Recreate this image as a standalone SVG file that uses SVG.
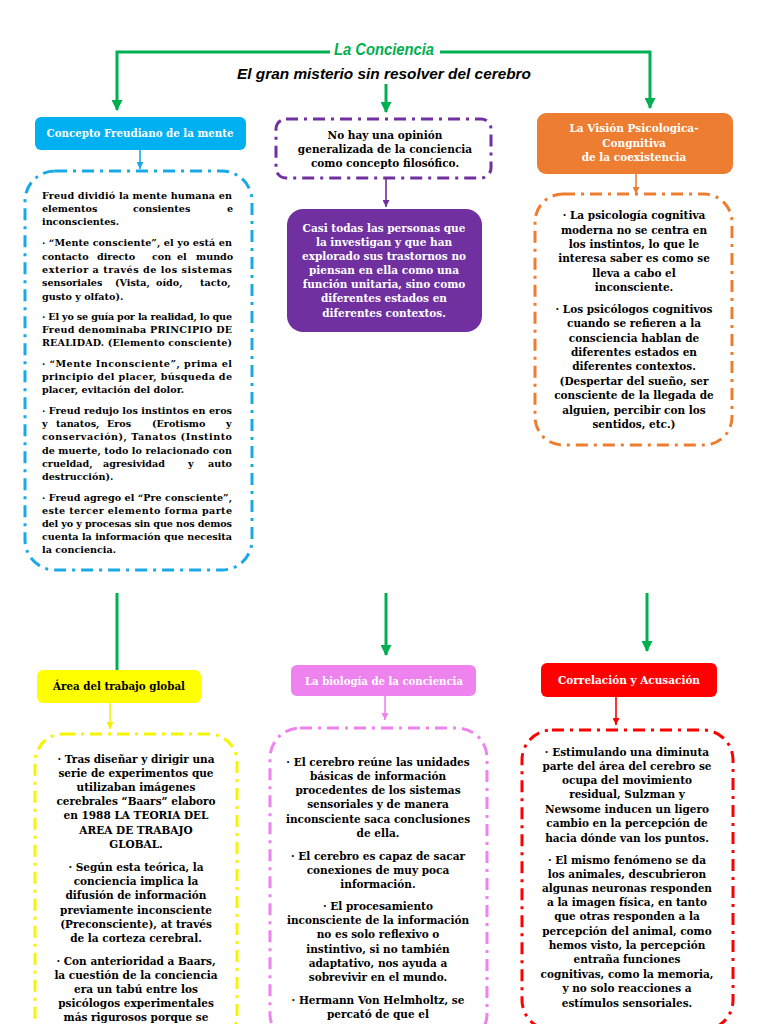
<svg xmlns="http://www.w3.org/2000/svg" width="768" height="1024" viewBox="0 0 768 1024">
<style>
.t{font-family:"DejaVu Serif","Liberation Serif",serif;font-weight:bold;font-size:10.5px;fill:#000;text-anchor:middle}
.l{font-size:9.6px;text-anchor:start}
.w{fill:#fff}
.hd{font-family:"DejaVu Serif","Liberation Serif",serif;font-weight:bold;font-size:10.5px;text-anchor:middle}
.box{fill:none;stroke-width:3;stroke-dasharray:12 6 3 6;stroke-linecap:butt}
.g{fill:none;stroke:#00b050;stroke-width:3}
.sm{fill:none;stroke-width:1.6}
.ti{font-family:"Liberation Sans","DejaVu Sans",sans-serif;font-style:italic;font-weight:bold;text-anchor:middle}
</style>
<defs>
<marker id="ag" markerUnits="userSpaceOnUse" markerWidth="11" markerHeight="11" refX="10" refY="5.5" orient="auto"><path d="M0,0 L11,5.5 L0,11 z" fill="#00b050"/></marker>
<marker id="ac" markerUnits="userSpaceOnUse" markerWidth="7" markerHeight="7" refX="7" refY="3.5" orient="auto"><path d="M0,0 L7,3.5 L0,7 z" fill="#19a9e6"/></marker>
<marker id="ap" markerUnits="userSpaceOnUse" markerWidth="7" markerHeight="7" refX="7" refY="3.5" orient="auto"><path d="M0,0 L7,3.5 L0,7 z" fill="#7030a0"/></marker>
<marker id="ao" markerUnits="userSpaceOnUse" markerWidth="7" markerHeight="7" refX="7" refY="3.5" orient="auto"><path d="M0,0 L7,3.5 L0,7 z" fill="#ed7d31"/></marker>
<marker id="ay" markerUnits="userSpaceOnUse" markerWidth="7" markerHeight="7" refX="7" refY="3.5" orient="auto"><path d="M0,0 L7,3.5 L0,7 z" fill="#f2f200"/></marker>
<marker id="ak" markerUnits="userSpaceOnUse" markerWidth="7" markerHeight="7" refX="7" refY="3.5" orient="auto"><path d="M0,0 L7,3.5 L0,7 z" fill="#ee82ee"/></marker>
<marker id="ar" markerUnits="userSpaceOnUse" markerWidth="7" markerHeight="7" refX="7" refY="3.5" orient="auto"><path d="M0,0 L7,3.5 L0,7 z" fill="#ff0000"/></marker>
</defs>
<rect width="768" height="1024" fill="#fff"/>

<g id="title">
<text class="ti" x="384" y="55" font-size="16" fill="#00b050" textLength="100" lengthAdjust="spacingAndGlyphs">La Conciencia</text>
<text class="ti" x="384" y="79" font-size="14" fill="#000" textLength="294" lengthAdjust="spacingAndGlyphs">El gran misterio sin resolver del cerebro</text>
</g>

<g id="connectors">
<path class="g" d="M330,52 H117 V110" marker-end="url(#ag)"/>
<path class="g" d="M440,52 H650 V108" marker-end="url(#ag)"/>
<path class="g" d="M386,84 V112" marker-end="url(#ag)"/>
<path class="g" d="M117,593 V691" marker-end="url(#ag)"/>
<path class="g" d="M386,593 V655" marker-end="url(#ag)"/>
<path class="g" d="M647,593 V651" marker-end="url(#ag)"/>
<path class="sm" stroke="#19a9e6" d="M140,150 V169" marker-end="url(#ac)"/>
<path class="sm" stroke="#7030a0" d="M386,178 V207" marker-end="url(#ap)"/>
<path class="sm" stroke="#ed7d31" d="M636,174 V194" marker-end="url(#ao)"/>
<path class="sm" stroke="#f2f200" d="M110,703 V729" marker-end="url(#ay)"/>
<path class="sm" stroke="#ee82ee" d="M385,696 V720" marker-end="url(#ak)"/>
<path class="sm" stroke="#ff0000" d="M616,697 V725" marker-end="url(#ar)"/>
</g>

<g id="freud-header">
<rect x="35" y="117" width="211" height="33" rx="6" fill="#00b0f0"/>
<text class="hd w" x="140" y="137" textLength="187" lengthAdjust="spacingAndGlyphs">Concepto Freudiano de la mente</text>
</g>

<g id="freud-body">
<rect class="box" x="25" y="171" width="227" height="399" rx="30" stroke="#19a9e6"/>
<text class="t l" x="42" y="199" textLength="190" lengthAdjust="spacing">Freud dividió la mente humana en</text>
<text class="t l" x="42" y="212">elementos</text>
<text class="t l" x="133" y="212">consientes</text>
<text class="t l" x="227" y="212">e</text>
<text class="t l" x="42" y="225">inconscientes.</text>
<text class="t l" x="42" y="246" textLength="190" lengthAdjust="spacing">· “Mente consciente”, el yo está en</text>
<text class="t l" x="42" y="260">contacto</text>
<text class="t l" x="97" y="260">directo</text>
<text class="t l" x="152" y="260">con</text>
<text class="t l" x="177" y="260">el</text>
<text class="t l" x="196" y="260">mundo</text>
<text class="t l" x="42" y="273" textLength="190" lengthAdjust="spacing">exterior a través de los sistemas</text>
<text class="t l" x="42" y="286">sensoriales</text>
<text class="t l" x="115" y="286">(Vista,</text>
<text class="t l" x="156" y="286">oído,</text>
<text class="t l" x="200" y="286">tacto,</text>
<text class="t l" x="42" y="300">gusto y olfato).</text>
<text class="t l" x="42" y="320" textLength="190" lengthAdjust="spacing">· El yo se guía por la realidad, lo que</text>
<text class="t l" x="42" y="333" textLength="190" lengthAdjust="spacing">Freud denominaba PRINCIPIO DE</text>
<text class="t l" x="42" y="346" textLength="190" lengthAdjust="spacing">REALIDAD. (Elemento consciente)</text>
<text class="t l" x="42" y="367" textLength="190" lengthAdjust="spacing">· “Mente Inconsciente”, prima el</text>
<text class="t l" x="42" y="380" textLength="190" lengthAdjust="spacing">principio del placer, búsqueda de</text>
<text class="t l" x="42" y="393">placer, evitación del dolor.</text>
<text class="t l" x="42" y="414" textLength="190" lengthAdjust="spacing">· Freud redujo los instintos en eros</text>
<text class="t l" x="42" y="427">y</text>
<text class="t l" x="56" y="427">tanatos,</text>
<text class="t l" x="107" y="427">Eros</text>
<text class="t l" x="152" y="427">(Erotismo</text>
<text class="t l" x="226" y="427">y</text>
<text class="t l" x="42" y="440" textLength="190" lengthAdjust="spacing">conservación), Tanatos (Instinto</text>
<text class="t l" x="42" y="454" textLength="190" lengthAdjust="spacing">de muerte, todo lo relacionado con</text>
<text class="t l" x="42" y="467">crueldad,</text>
<text class="t l" x="103" y="467">agresividad</text>
<text class="t l" x="188" y="467">y</text>
<text class="t l" x="208" y="467">auto</text>
<text class="t l" x="42" y="480">destrucción).</text>
<text class="t l" x="42" y="501" textLength="190" lengthAdjust="spacing">· Freud agrego el “Pre consciente”,</text>
<text class="t l" x="42" y="514" textLength="190" lengthAdjust="spacing">este tercer elemento forma parte</text>
<text class="t l" x="42" y="527" textLength="190" lengthAdjust="spacing">del yo y procesas sin que nos demos</text>
<text class="t l" x="42" y="540" textLength="190" lengthAdjust="spacing">cuenta la información que necesita</text>
<text class="t l" x="42" y="553">la conciencia.</text>
</g>

<g id="opinion">
<rect class="box" x="276" y="119" width="215" height="59" rx="10" stroke="#7030a0"/>
<text class="t" x="385" y="139">No hay una opinión</text>
<text class="t" x="385" y="153">generalizada de la conciencia</text>
<text class="t" x="385" y="167">como concepto filosófico.</text>
</g>

<g id="personas">
<rect x="287" y="209" width="195" height="123" rx="16" fill="#7030a0"/>
<text class="t w" x="384" y="232">Casi todas las personas que</text>
<text class="t w" x="384" y="246">la investigan y que han</text>
<text class="t w" x="384" y="260">explorado sus trastornos no</text>
<text class="t w" x="384" y="274">piensan en ella como una</text>
<text class="t w" x="384" y="288">función unitaria, sino como</text>
<text class="t w" x="384" y="302">diferentes estados en</text>
<text class="t w" x="384" y="317">diferentes contextos.</text>
</g>

<g id="vision-header">
<rect x="537" y="113" width="196" height="61" rx="9" fill="#ed7d31"/>
<text class="hd w" x="634" y="132">La Visión Psicologica-</text>
<text class="hd w" x="634" y="147">Congnitiva</text>
<text class="hd w" x="634" y="161">de la coexistencia</text>
</g>

<g id="vision-body">
<rect class="box" x="535" y="194" width="197" height="251" rx="28" stroke="#ed7d31"/>
<text class="t" x="634" y="219">· La psicología cognitiva</text>
<text class="t" x="634" y="234">moderna no se centra en</text>
<text class="t" x="634" y="248">los instintos, lo que le</text>
<text class="t" x="634" y="262">interesa saber es como se</text>
<text class="t" x="634" y="277">lleva a cabo el</text>
<text class="t" x="634" y="291">inconsciente.</text>
<text class="t" x="634" y="313">· Los psicólogos cognitivos</text>
<text class="t" x="634" y="327">cuando se refieren a la</text>
<text class="t" x="634" y="342">consciencia hablan de</text>
<text class="t" x="634" y="356">diferentes estados en</text>
<text class="t" x="634" y="370">diferentes contextos.</text>
<text class="t" x="634" y="385">(Despertar del sueño, ser</text>
<text class="t" x="634" y="399">consciente de la llegada de</text>
<text class="t" x="634" y="414">alguien, percibir con los</text>
<text class="t" x="634" y="428">sentidos, etc.)</text>
</g>

<g id="area-header">
<rect x="37" y="670" width="164" height="33" rx="6" fill="#ffff00"/>
<text class="hd" x="119" y="690" fill="#000" textLength="132" lengthAdjust="spacingAndGlyphs">Área del trabajo global</text>
</g>

<g id="area-body">
<rect class="box" x="35" y="734" width="202" height="310" rx="28" stroke="#f5f500"/>
<text class="t" x="136" y="763">· Tras diseñar y dirigir una</text>
<text class="t" x="136" y="777">serie de experimentos que</text>
<text class="t" x="136" y="791">utilizaban imágenes</text>
<text class="t" x="136" y="805">cerebrales “Baars” elaboro</text>
<text class="t" x="136" y="819">en 1988 LA TEORIA DEL</text>
<text class="t" x="136" y="834">AREA DE TRABAJO</text>
<text class="t" x="136" y="848">GLOBAL.</text>
<text class="t" x="136" y="871">· Según esta teórica, la</text>
<text class="t" x="136" y="885">conciencia implica la</text>
<text class="t" x="136" y="899">difusión de información</text>
<text class="t" x="136" y="914">previamente inconsciente</text>
<text class="t" x="136" y="928">(Preconsciente), at través</text>
<text class="t" x="136" y="942">de la corteza cerebral.</text>
<text class="t" x="136" y="965">· Con anterioridad a Baars,</text>
<text class="t" x="136" y="979">la cuestión de la conciencia</text>
<text class="t" x="136" y="993">era un tabú entre los</text>
<text class="t" x="136" y="1007">psicólogos experimentales</text>
<text class="t" x="136" y="1021">más rigurosos porque se</text>
</g>

<g id="biologia-header">
<rect x="291" y="665" width="185" height="31" rx="6" fill="#ee82ee"/>
<text class="hd w" x="384" y="685" textLength="158" lengthAdjust="spacingAndGlyphs">La biología de la conciencia</text>
</g>

<g id="biologia-body">
<rect class="box" x="270" y="728" width="217" height="316" rx="30" stroke="#ee82ee"/>
<text class="t" x="378" y="766">· El cerebro reúne las unidades</text>
<text class="t" x="378" y="780">básicas de información</text>
<text class="t" x="378" y="794">procedentes de los sistemas</text>
<text class="t" x="378" y="808">sensoriales y de manera</text>
<text class="t" x="378" y="823">inconsciente saca conclusiones</text>
<text class="t" x="378" y="837">de ella.</text>
<text class="t" x="378" y="860">· El cerebro es capaz de sacar</text>
<text class="t" x="378" y="874">conexiones de muy poca</text>
<text class="t" x="378" y="888">información.</text>
<text class="t" x="378" y="910">· El procesamiento</text>
<text class="t" x="378" y="924">inconsciente de la información</text>
<text class="t" x="378" y="938">no es solo reflexivo o</text>
<text class="t" x="378" y="953">instintivo, si no también</text>
<text class="t" x="378" y="967">adaptativo, nos ayuda a</text>
<text class="t" x="378" y="981">sobrevivir en el mundo.</text>
<text class="t" x="378" y="1004">· Hermann Von Helmholtz, se</text>
<text class="t" x="378" y="1018">percató de que el</text>
</g>

<g id="correlacion-header">
<rect x="541" y="663" width="176" height="34" rx="6" fill="#ff0000"/>
<text class="hd w" x="629" y="684" textLength="142" lengthAdjust="spacingAndGlyphs">Correlación y Acusación</text>
</g>

<g id="correlacion-body">
<rect class="box" x="522" y="730" width="211" height="300" rx="30" stroke="#ff0000"/>
<text class="t" x="627" y="756">· Estimulando una diminuta</text>
<text class="t" x="627" y="770">parte del área del cerebro se</text>
<text class="t" x="627" y="784">ocupa del movimiento</text>
<text class="t" x="627" y="798">residual, Sulzman y</text>
<text class="t" x="627" y="813">Newsome inducen un ligero</text>
<text class="t" x="627" y="827">cambio en la percepción de</text>
<text class="t" x="627" y="842">hacia dónde van los puntos.</text>
<text class="t" x="627" y="864">· El mismo fenómeno se da</text>
<text class="t" x="627" y="878">los animales, descubrieron</text>
<text class="t" x="627" y="892">algunas neuronas responden</text>
<text class="t" x="627" y="906">a la imagen física, en tanto</text>
<text class="t" x="627" y="920">que otras responden a la</text>
<text class="t" x="627" y="935">percepción del animal, como</text>
<text class="t" x="627" y="949">hemos visto, la percepción</text>
<text class="t" x="627" y="963">entraña funciones</text>
<text class="t" x="627" y="978">cognitivas, como la memoria,</text>
<text class="t" x="627" y="992">y no solo reacciones a</text>
<text class="t" x="627" y="1007">estímulos sensoriales.</text>
</g>
</svg>
